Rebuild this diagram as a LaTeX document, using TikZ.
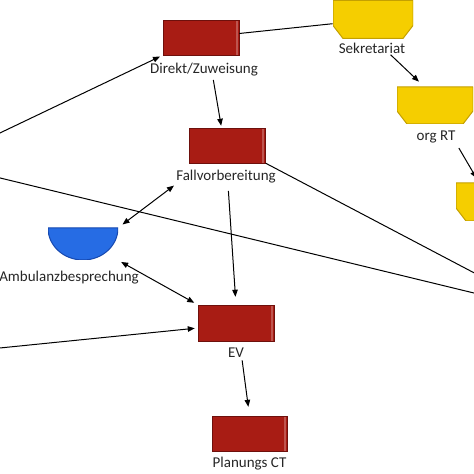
\documentclass[tikz,border=0pt]{standalone}
\usepackage{fontspec}
\setmainfont{Carlito}
\usetikzlibrary{arrows.meta}
\definecolor{procred}{RGB}{168,28,20}
\definecolor{procedge}{RGB}{110,16,12}
\definecolor{roleyellow}{RGB}{245,206,0}
\definecolor{roleedge}{RGB}{196,160,0}
\definecolor{meetblue}{RGB}{38,108,228}
\definecolor{meetedge}{RGB}{22,72,175}

\begin{document}
\begin{tikzpicture}[x=1pt,y=1pt,>={Triangle[length=7pt,width=5.5pt]},line width=1pt,
  proc/.style={draw=procedge,fill=procred,line width=0.5pt,minimum width=76pt,minimum height=35pt,inner sep=0pt,
    path picture={\fill[procred!75!white] ([xshift=-3.5pt]path picture bounding box.north east) rectangle ([xshift=-1.5pt]path picture bounding box.south east);}},
  role/.style={minimum width=#1,minimum height=38pt,inner sep=0pt,
    path picture={\fill[roleyellow,draw=roleedge,line width=1pt]
      (path picture bounding box.north west) -- (path picture bounding box.north east)
      -- ([yshift=13pt]path picture bounding box.south east) -- ([xshift=-10pt]path picture bounding box.south east)
      -- ([xshift=10pt]path picture bounding box.south west) -- ([yshift=13pt]path picture bounding box.south west) -- cycle;}},
  meet/.style={minimum width=70pt,minimum height=32pt,inner sep=0pt,
    path picture={\fill[meetblue,draw=meetedge,line width=1pt]
      (path picture bounding box.north west) arc[start angle=180,end angle=360,x radius=35pt,y radius=32pt] -- cycle;}},
  lbl/.style={inner sep=1pt,text=black!85,font=\fontsize{15}{18}\selectfont}]
  \clip (0,0) rectangle (474,474);

  % Prozessschritte
  \node[proc] (direkt) at (201,436.5) {};
  \node[proc] (fall) at (227.5,328.5) {};
  \node[proc,minimum height=36pt] (ev) at (236,151) {};
  \node[proc,minimum width=75pt] (ct) at (249.5,40.5) {};
  % Stellen
  \node[role=80pt] (sekr) at (373,454.5) {};
  \node[role=76pt,minimum height=37pt] (orgrt) at (435,368.5) {};
  \node[role=76pt] (stelle3) at (494,272) {};
  \node[meet] (ambu) at (83,230) {};

  % Beschriftungen
  \node[lbl] (direktlbl) at (204,404) {Direkt/Zuweisung};
  \node[lbl] (sekrlbl) at (372,426) {Sekretariat};
  \node[lbl] (orgrtlbl) at (436,337) {org RT};
  \node[lbl] (falllbl) at (226,297) {Fallvorbereitung};
  \node[lbl] (ambulbl) at (69,196) {Ambulanzbesprechung};
  \node[lbl] (evlbl) at (236,121) {EV};
  \node[lbl] (ctlbl) at (249.5,10) {Planungs CT};

  % freie Enden ausserhalb
  \coordinate (inl1) at (-20,331.5);
  \coordinate (inl2) at (-20,300.9);
  \coordinate (inl3) at (-20,124);
  \coordinate (outr1) at (520,169.8);
  \coordinate (outr2) at (520,177);

  \draw[->,shorten >=3pt] (inl1) -- (direkt.south west);
  \draw (sekr) -- (direkt);
  \draw[->,shorten >=7pt] (sekrlbl.-20) -- (orgrt.120);
  \draw[->,shorten <=2pt,shorten >=2pt] ([xshift=9pt]direktlbl.south) -- ([xshift=-6pt]fall.north);
  \draw[->,shorten <=4pt,shorten >=5pt] (orgrtlbl.south east) -- ([xshift=-15pt]stelle3.north);
  \draw (inl2) -- (outr1);
  \draw (fall.south east) -- (outr2);
  \draw[<->,shorten <=1pt,shorten >=5pt] (falllbl.south west) -- (ambu.north east);
  \draw[->,shorten <=6pt,shorten >=8pt] ([xshift=2pt]falllbl.south) -- (ev.north);
  \draw[<->,shorten <=3pt,shorten >=4pt] (ambu.south east) -- (ev.north west);
  \draw[->,shorten >=3pt] (inl3) -- ([yshift=-5pt]ev.west);
  \draw[->,shorten <=1pt,shorten >=9pt] ([xshift=6pt]evlbl.south) -- (ct.north);
\end{tikzpicture}
\end{document}
